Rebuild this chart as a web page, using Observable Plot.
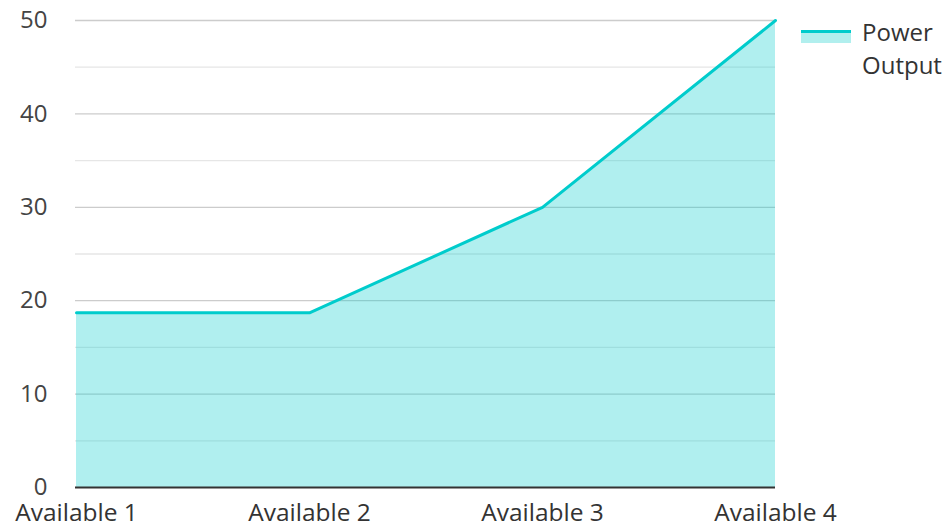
<!DOCTYPE html>
<html>
<head>
<meta charset="utf-8">
<script src="https://cdn.jsdelivr.net/npm/d3@7"></script>
<script src="https://cdn.jsdelivr.net/npm/@observablehq/plot@0.6"></script>
<style>
  body { margin: 0; background: #fff; font-family: "Open Sans", sans-serif; }
  #wrap { position: relative; width: 947px; height: 526px; }
  #legend { position: absolute; left: 801px; top: 15px; display: flex; align-items: flex-start; font-size: 24px; color: #333; line-height: 33px; font-family: "Open Sans", sans-serif; }
  #legend .sw { width: 50px; height: 13px; margin-top: 15px; margin-right: 11px; background: #b1efee; border-top: 3px solid #00cccc; box-sizing: border-box; }
</style>
</head>
<body>
<div id="wrap"></div>
<script>
const categories = ["Available 1", "Available 2", "Available 3", "Available 4"];
const powerOutput = [18.7, 18.7, 30, 50];
const majorTicks = [0, 10, 20, 30, 40, 50];
const minorTicks = [5, 15, 25, 35, 45];
const seriesName = "Power Output";

const data = categories.map((c, i) => ({category: c, value: powerOutput[i]}));

const chart = Plot.plot({
  width: 947,
  height: 526,
  marginLeft: 75,
  marginRight: 172,
  marginTop: 20,
  marginBottom: 39,
  style: { fontFamily: "Open Sans, sans-serif", fontSize: "24px", color: "#444", background: "#fff", overflow: "visible" },
  x: { type: "point", domain: categories, padding: 0, label: null },
  y: { domain: [0, 50], label: null },
  marks: [
    Plot.ruleY(minorTicks, { stroke: "#e6e6e6", strokeWidth: 1.3 }),
    Plot.ruleY(majorTicks.filter(d => d > 0), { stroke: "#cccccc", strokeWidth: 1.3 }),
    Plot.areaY(data, { x: "category", y: "value", fill: "#00cccc", fillOpacity: 0.31 }),
    Plot.lineY(data, { x: "category", y: "value", stroke: "#00cccc", strokeWidth: 3 }),
    Plot.ruleY([0], { stroke: "#333", strokeWidth: 2 }),
    Plot.axisY(majorTicks, { tickSize: 0, tickPadding: 28, fontSize: 24, fill: "#444" }),
    Plot.axisX(categories, { tickSize: 0, tickPadding: 16, fontSize: 24.5, fill: "#333" })
  ]
});

const wrap = document.getElementById("wrap");
wrap.appendChild(chart);
const legend = document.createElement("div");
legend.id = "legend";
legend.innerHTML = '<div class="sw"></div><div>Power<br>Output</div>';
wrap.appendChild(legend);
</script>
</body>
</html>
